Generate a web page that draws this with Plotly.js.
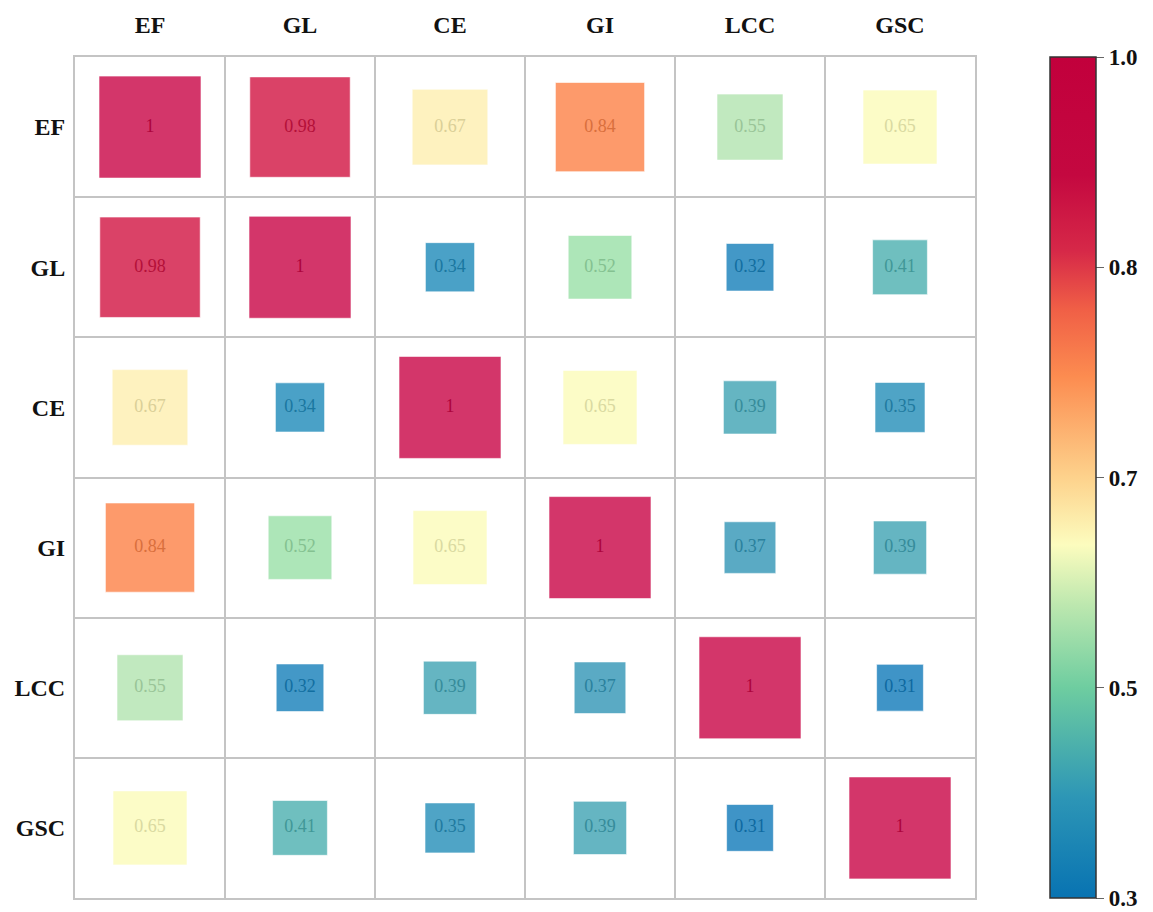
<!DOCTYPE html>
<html>
<head>
<meta charset="utf-8">
<script src="https://cdn.plot.ly/plotly-3.0.1.min.js"></script>
<style>
  html, body { margin: 0; padding: 0; background: #ffffff; }
  #chart { width: 1153px; height: 912px; }
</style>
</head>
<body>
<div id="chart"></div>
<script>
// Variable names (rows top to bottom, columns left to right)
const variables = ['EF', 'GL', 'CE', 'GI', 'LCC', 'GSC'];

// Correlation coefficients, one array per row
const rowEF  = [1.00, 0.98, 0.67, 0.84, 0.55, 0.65];
const rowGL  = [0.98, 1.00, 0.34, 0.52, 0.32, 0.41];
const rowCE  = [0.67, 0.34, 1.00, 0.65, 0.39, 0.35];
const rowGI  = [0.84, 0.52, 0.65, 1.00, 0.37, 0.39];
const rowLCC = [0.55, 0.32, 0.39, 0.37, 1.00, 0.31];
const rowGSC = [0.65, 0.41, 0.35, 0.39, 0.31, 1.00];
const matrix = [rowEF, rowGL, rowCE, rowGI, rowLCC, rowGSC];

// Colour bar tick labels
const barTickLabels = ['0.3', '0.5', '0.7', '0.8', '1.0'];

const VMIN = 0.3, VMAX = 1.0;

// Colour scale used for the squares (over VMIN..VMAX)
const cellScale = [
  [0.000, 'rgb(10,116,184)'],
  [0.014, 'rgb(16,122,186)'],
  [0.057, 'rgb(30,138,186)'],
  [0.100, 'rgb(49,150,182)'],
  [0.157, 'rgb(76,176,176)'],
  [0.314, 'rgb(153,224,167)'],
  [0.357, 'rgb(178,228,176)'],
  [0.500, 'rgb(252,252,186)'],
  [0.529, 'rgb(254,240,176)'],
  [0.771, 'rgb(253,129,71)'],
  [0.971, 'rgb(209,19,66)'],
  [1.000, 'rgb(201,5,69)']
];

// Gradient of the colour bar
const barScale = [
  [0.00, 'rgb(8,115,178)'],
  [0.12, 'rgb(45,150,182)'],
  [0.25, 'rgb(110,205,160)'],
  [0.35, 'rgb(190,232,175)'],
  [0.42, 'rgb(252,252,190)'],
  [0.50, 'rgb(253,210,140)'],
  [0.62, 'rgb(252,140,80)'],
  [0.70, 'rgb(240,95,70)'],
  [0.77, 'rgb(214,40,72)'],
  [0.86, 'rgb(196,8,64)'],
  [1.00, 'rgb(194,0,60)']
];

function parseRgb(s) {
  return s.match(/\d+/g).map(Number);
}
// Colour of a value on the cell scale, darkened for the value labels
function labelColor(v) {
  const f = Math.min(1, Math.max(0, (v - VMIN) / (VMAX - VMIN)));
  let i = 0;
  while (i < cellScale.length - 2 && cellScale[i + 1][0] < f) i++;
  const [p0, c0] = cellScale[i], [p1, c1] = cellScale[i + 1];
  const t = (f - p0) / (p1 - p0 || 1);
  const a = parseRgb(c0), b = parseRgb(c1);
  const k = 0.86;
  const c = a.map((x, j) => Math.round((x + (b[j] - x) * t) * k));
  return 'rgb(' + c.join(',') + ')';
}

const xs = [], ys = [], vals = [], texts = [], sizes = [], tcols = [];
matrix.forEach((row, r) => {
  row.forEach((v, c) => {
    xs.push(c);
    ys.push(r);
    vals.push(v);
    texts.push(String(v));
    sizes.push(22 + 80 * v);   // square side grows with the coefficient
    tcols.push(labelColor(v));
  });
});

const idx = variables.map((_, i) => i);
const bounds = [];
for (let i = 0; i <= variables.length; i++) bounds.push(i - 0.5);

const serif = '"Liberation Serif", "Times New Roman", serif';

const cells = {
  type: 'scatter',
  mode: 'markers+text',
  x: xs,
  y: ys,
  text: texts,
  textposition: 'middle center',
  textfont: { family: serif, size: 18, color: tcols },
  marker: {
    symbol: 'square',
    size: sizes,
    color: vals,
    colorscale: cellScale,
    cmin: VMIN,
    cmax: VMAX,
    opacity: 0.8,
    showscale: false,
    line: { width: 1, color: 'rgba(255,255,255,0.6)' }
  },
  hoverinfo: 'skip',
  showlegend: false,
  cliponaxis: false
};

const colorBar = {
  type: 'scatter',
  mode: 'markers',
  x: [null],
  y: [null],
  marker: {
    color: [0],
    colorscale: barScale,
    cmin: 0,
    cmax: 1,
    showscale: true,
    colorbar: {
      x: 1.0833,
      xanchor: 'left',
      y: 0.5,
      yanchor: 'middle',
      len: 1,
      lenmode: 'fraction',
      thickness: 46,
      thicknessmode: 'pixels',
      outlinewidth: 1.5,
      outlinecolor: '#333333',
      tickmode: 'array',
      tickvals: barTickLabels.map((_, i) => i / (barTickLabels.length - 1)),
      ticktext: barTickLabels.map(s => '<b>' + s + '</b>'),
      ticks: 'outside',
      ticklen: 8,
      tickwidth: 1,
      tickcolor: '#666666',
      tickfont: { family: serif, size: 23, color: '#111111' },
      xpad: 0,
      ypad: 0
    }
  },
  hoverinfo: 'skip',
  showlegend: false
};

const axisCommon = {
  tickmode: 'array',
  tickvals: idx,
  ticktext: variables.map(s => '<b>' + s + '</b>'),
  tickfont: { family: serif, size: 24, color: '#111111' },
  ticks: '',
  showgrid: false,
  zeroline: false,
  showline: true,
  mirror: true,
  linecolor: '#c4c4c4',
  linewidth: 2,
  minor: {
    tickmode: 'array',
    tickvals: bounds,
    showgrid: true,
    gridcolor: '#c4c4c4',
    gridwidth: 2,
    ticks: ''
  },
  fixedrange: true
};

const layout = {
  width: 1153,
  height: 912,
  margin: { l: 75, r: 178, t: 57, b: 14 },
  paper_bgcolor: '#ffffff',
  plot_bgcolor: '#ffffff',
  xaxis: Object.assign({}, axisCommon, {
    side: 'top',
    range: [-0.5, variables.length - 0.5],
    ticklabelstandoff: 12
  }),
  yaxis: Object.assign({}, axisCommon, {
    range: [variables.length - 0.5, -0.5],
    ticklabelstandoff: 3
  }),
  showlegend: false
};

Plotly.newPlot('chart', [cells, colorBar], layout, { displayModeBar: false, staticPlot: true });
</script>
</body>
</html>
